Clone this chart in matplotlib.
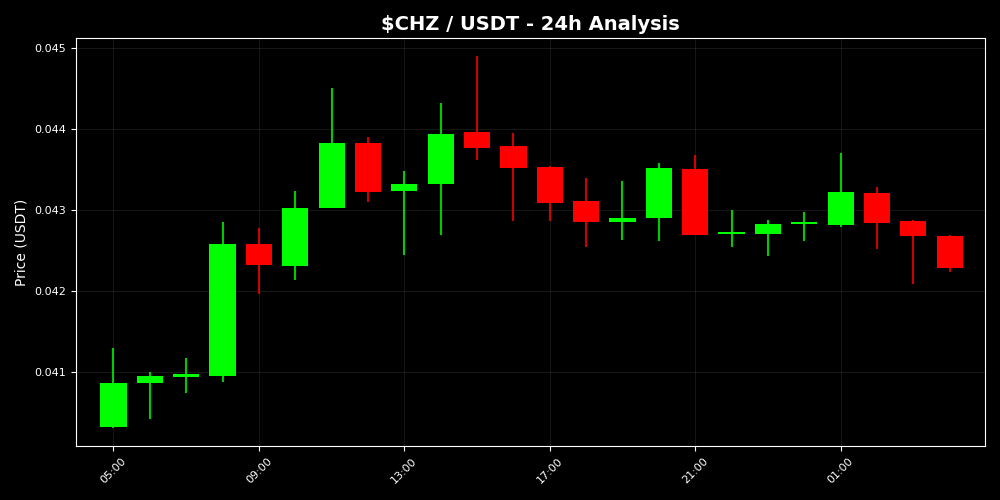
import matplotlib
matplotlib.use("Agg")
import matplotlib.pyplot as plt
import matplotlib.dates as mdates
import pandas as pd

# hourly candles, 05:00 -> 04:00 next day
times = pd.date_range("2024-01-01 05:00", periods=24, freq="h")
opens = [0.040328, 0.040872, 0.040946, 0.040958, 0.042584, 0.042316, 0.043032, 0.043827,
         0.043238, 0.043325, 0.043967, 0.043794, 0.043538, 0.043115, 0.042859, 0.042905,
         0.043510, 0.042704, 0.042711, 0.042835, 0.042822, 0.043214, 0.042868, 0.042683]
closes = [0.040872, 0.040954, 0.040977, 0.042584, 0.042325, 0.043025, 0.043827, 0.043226,
          0.043325, 0.043942, 0.043773, 0.043526, 0.043094, 0.042856, 0.042901, 0.043522,
          0.042699, 0.042728, 0.042831, 0.042847, 0.043226, 0.042847, 0.042686, 0.042288]
highs = [0.041296, 0.041004, 0.041173, 0.042852, 0.042781, 0.043235, 0.044506, 0.043901,
         0.043481, 0.044325, 0.044905, 0.043951, 0.043547, 0.043399, 0.043362, 0.043580,
         0.043679, 0.043000, 0.042880, 0.042979, 0.043707, 0.043288, 0.042877, 0.042691]
lows = [0.040316, 0.040427, 0.040741, 0.040884, 0.041967, 0.042143, 0.043032, 0.043102,
        0.042448, 0.042695, 0.043621, 0.042868, 0.042868, 0.042547, 0.042633, 0.042621,
        0.042699, 0.042547, 0.042436, 0.042621, 0.042798, 0.042522, 0.042090, 0.042238]

up_color = "#00ff00"
down_color = "#ff0000"

fig, ax = plt.subplots(figsize=(10, 5), dpi=100)
fig.patch.set_facecolor("black")
ax.set_facecolor("black")

x = mdates.date2num(times)
width = 0.72 / 24

for xi, o, h, l, c in zip(x, opens, highs, lows, closes):
    col = up_color if c >= o else down_color
    ax.vlines(xi, l, h, color=col, linewidth=1.5, alpha=0.8, zorder=2)
    # keep very small bodies visible
    body = max(abs(c - o), 0.000025)
    ax.bar(xi, body, width=width, bottom=min(o, c), color=col, zorder=3)

ax.set_xlim(x[0] - 1.03 / 24, x[-1] + 0.97 / 24)
ax.set_ylim(0.04009, 0.045127)

ax.xaxis.set_major_locator(mdates.HourLocator(byhour=range(1, 24, 4)))
ax.xaxis.set_major_formatter(mdates.DateFormatter("%H:%M"))
plt.setp(ax.get_xticklabels(), rotation=45, fontsize=8, color="white")
plt.setp(ax.get_yticklabels(), fontsize=8, color="white")
ax.tick_params(colors="white")

ax.grid(True, color="#444444", alpha=0.4, linewidth=0.6)
for s in ax.spines.values():
    s.set_color("white")

ax.set_title("\\$CHZ / USDT - 24h Analysis", color="white", fontsize=14, fontweight="bold")
ax.set_ylabel("Price (USDT)", color="white", fontsize=10)

plt.subplots_adjust(left=0.076, right=0.985, bottom=0.108, top=0.924)
plt.savefig("out.png", facecolor="black")
